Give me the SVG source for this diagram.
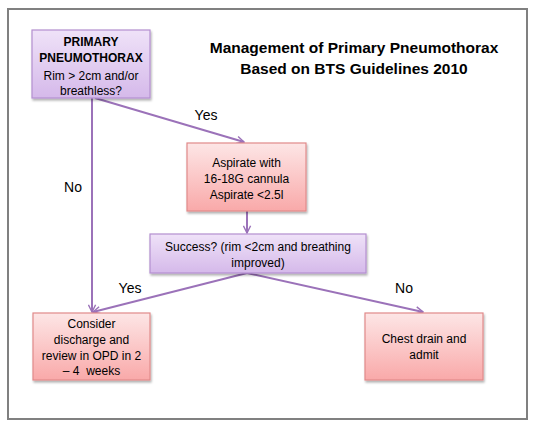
<svg xmlns="http://www.w3.org/2000/svg" width="536" height="428" viewBox="0 0 536 428">
<defs>
<linearGradient id="gp" x1="0" y1="0" x2="0" y2="1"><stop offset="0" stop-color="#efe2f8"/><stop offset="1" stop-color="#d5b9ea"/></linearGradient>
<linearGradient id="gr" x1="0" y1="0" x2="0" y2="1"><stop offset="0" stop-color="#fde6e6"/><stop offset="1" stop-color="#f9a9a9"/></linearGradient>
<filter id="sh" x="-10%" y="-10%" width="130%" height="130%"><feDropShadow dx="1" dy="2" stdDeviation="1.2" flood-color="#000" flood-opacity="0.3"/></filter>
<marker id="ar" viewBox="0 0 10 10" refX="9" refY="5" markerWidth="9" markerHeight="9" markerUnits="userSpaceOnUse" orient="auto"><path d="M1,1 L9,5 L1,9" fill="none" stroke="#9b72b9" stroke-width="1.6"/></marker>
</defs>
<style>
.p{fill:url(#gp);stroke:#b48fd0;stroke-width:1.2;filter:url(#sh)}
.r{fill:url(#gr);stroke:#e18a8a;stroke-width:1.2;filter:url(#sh)}
text{font-family:"Liberation Sans",Arial,sans-serif;font-size:12px;fill:#000;text-anchor:middle}
.b{font-weight:bold}
.t{font-weight:bold;font-size:15.5px}
.l{font-size:14px}
.c{fill:none;stroke:#9b72b9;stroke-width:2;marker-end:url(#ar)}
</style>
<rect x="8" y="9" width="519" height="410" fill="#fff" stroke="#808080" stroke-width="2"/>
<g id="title">
<text class="t" x="354" y="53">Management of Primary Pneumothorax</text>
<text class="t" x="354" y="74">Based on BTS Guidelines 2010</text>
</g>
<g id="connectors">
<path class="c" d="M92,98 L92,312"/>
<path class="c" d="M95,98 L244,142"/>
<path class="c" d="M247,211 L247,233"/>
<path class="c" d="M247,273 L93,312"/>
<path class="c" d="M247,273 L423,312"/>
<text class="l" x="206" y="120">Yes</text>
<text class="l" x="73" y="192">No</text>
<text class="l" x="130" y="293">Yes</text>
<text class="l" x="404" y="293">No</text>
</g>
<g id="n1">
<rect class="p" x="32" y="30" width="118" height="68"/>
<text class="b" x="91" y="46">PRIMARY</text>
<text class="b" x="91" y="62">PNEUMOTHORAX</text>
<text x="91" y="80">Rim &gt; 2cm and/or</text>
<text x="91" y="95">breathless?</text>
</g>
<g id="n2">
<rect class="r" x="187" y="143" width="119" height="68"/>
<text x="246.5" y="167">Aspirate with</text>
<text x="246.5" y="183">16-18G cannula</text>
<text x="246.5" y="199">Aspirate &lt;2.5l</text>
</g>
<g id="n3">
<rect class="p" x="150" y="234" width="216" height="39"/>
<text x="258" y="251">Success? (rim &lt;2cm and breathing</text>
<text x="258" y="267">improved)</text>
</g>
<g id="n4">
<rect class="r" x="33" y="313" width="117" height="67"/>
<text x="91.5" y="328">Consider</text>
<text x="91.5" y="344">discharge and</text>
<text x="91.5" y="360">review in OPD in 2</text>
<text x="91.5" y="375" style="white-space:pre">– 4  weeks</text>
</g>
<g id="n5">
<rect class="r" x="365" y="313" width="118" height="67"/>
<text x="424" y="343">Chest drain and</text>
<text x="424" y="359">admit</text>
</g>
</svg>
